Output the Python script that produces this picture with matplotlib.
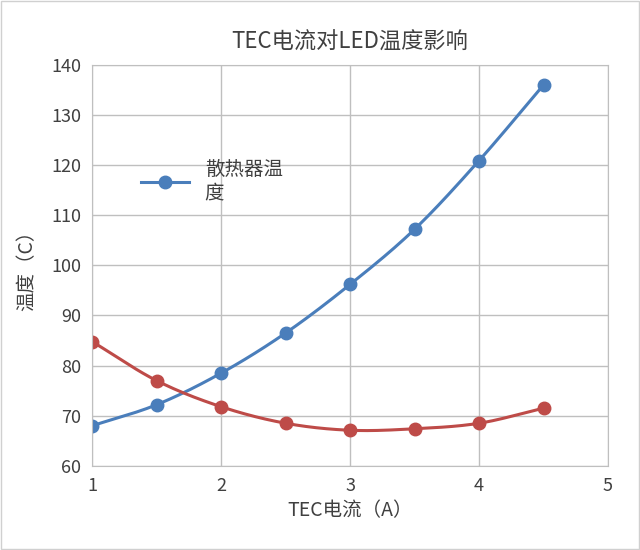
import numpy as np
import matplotlib
matplotlib.use("Agg")
import matplotlib.pyplot as plt

plt.rcParams['font.family'] = ['Noto Sans CJK SC', 'DejaVu Sans']

current = [1, 1.5, 2, 2.5, 3, 3.5, 4, 4.5]
heatsink_temp = [68, 72.2, 78.5, 86.5, 96.2, 107.2, 120.9, 136]
led_temp = [84.8, 77, 71.8, 68.5, 67.1, 67.4, 68.5, 71.5]


def smooth(x, y, n=20):
    # catmull-rom curve through the points, only for drawing the line
    x = np.asarray(x, float)
    y = np.asarray(y, float)
    px = np.concatenate([[2 * x[0] - x[1]], x, [2 * x[-1] - x[-2]]])
    py = np.concatenate([[2 * y[0] - y[1]], y, [2 * y[-1] - y[-2]]])
    xs, ys = [], []
    t = np.linspace(0, 1, n)
    for i in range(1, len(px) - 2):
        for p, out in ((px, xs), (py, ys)):
            p0, p1, p2, p3 = p[i - 1], p[i], p[i + 1], p[i + 2]
            out.extend(0.5 * (2 * p1 + (-p0 + p2) * t
                              + (2 * p0 - 5 * p1 + 4 * p2 - p3) * t ** 2
                              + (-p0 + 3 * p1 - 3 * p2 + p3) * t ** 3))
    return xs, ys


blue = '#4a7ebb'
red = '#be4b48'

fig = plt.figure(figsize=(6.4, 5.5), dpi=100)
ax = fig.add_axes([0.144, 0.153, 0.806, 0.729])

sx, sy = smooth(current, heatsink_temp)
ax.plot(sx, sy, color=blue, lw=2.2)
ax.plot(current, heatsink_temp, 'o', color=blue, ms=9)
ax.plot([], [], '-o', color=blue, lw=2.2, ms=9, label='散热器温\n度')
sx, sy = smooth(current, led_temp)
ax.plot(sx, sy, color=red, lw=2.2)
ax.plot(current, led_temp, 'o', color=red, ms=9)

ax.set_xlim(1, 5)
ax.set_ylim(60, 140)
ax.set_xticks(range(1, 6))
ax.set_yticks(range(60, 141, 10))
ax.grid(True, color='#bfbfbf', lw=1)
for s in ax.spines.values():
    s.set_color('#bfbfbf')
ax.tick_params(length=0, labelsize=13, colors='#404040', pad=8)

ax.set_title('TEC电流对LED温度影响', fontsize=16, color='#404040', pad=12)
ax.set_xlabel('TEC电流（A）', fontsize=14, color='#404040')
ax.set_ylabel('温度（C）', fontsize=14, color='#404040', labelpad=10)

ax.legend(loc='upper left', bbox_to_anchor=(0.06, 0.81), frameon=False,
          fontsize=14, labelcolor='#404040', handlelength=2.5)

fig.patches.append(plt.Rectangle((0.002, 0.002), 0.996, 0.996, transform=fig.transFigure,
                                 fill=False, ec='#d0d0d0', lw=1))
fig.savefig('out.png')
